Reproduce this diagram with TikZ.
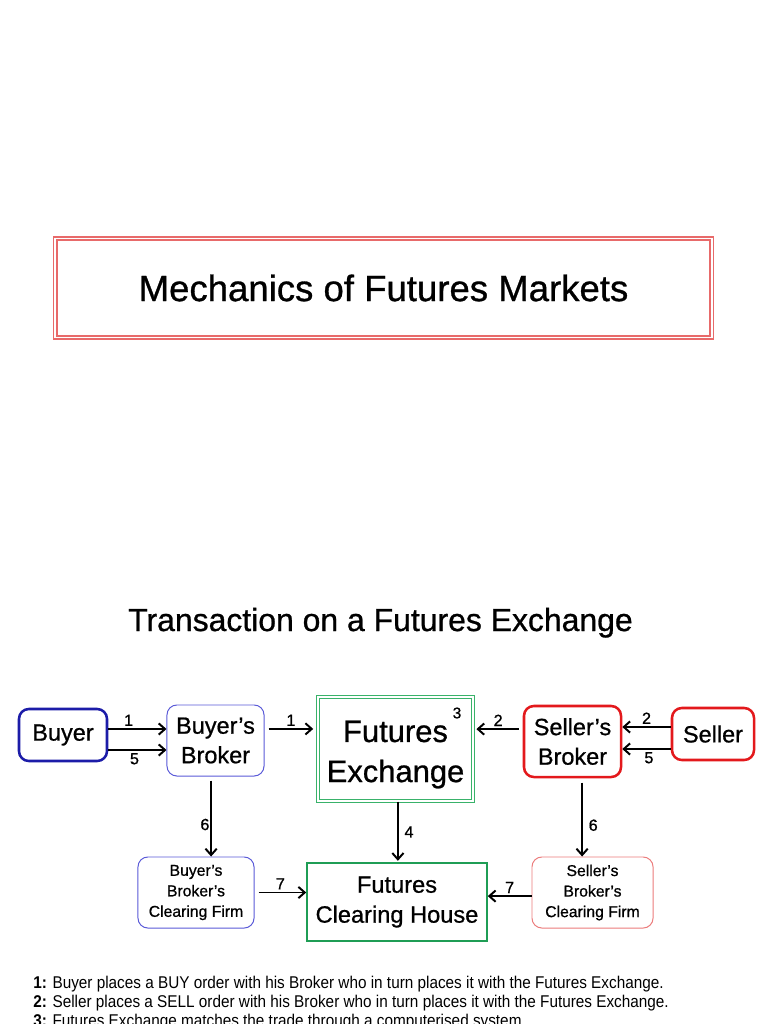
\documentclass[tikz,border=0pt]{standalone}
\usepackage{fontspec}
\setmainfont{Liberation Sans}[FakeBold=0.8]
\newfontfamily\notefont{Liberation Sans}[FakeStretch=0.9]
\usetikzlibrary{arrows.meta}
\definecolor{titleRed}{HTML}{E86A6A}
\definecolor{buyerBlue}{HTML}{1C1CA8}
\definecolor{brokerBlue}{HTML}{5A5AD8}
\definecolor{sellerRed}{HTML}{E3191C}
\definecolor{firmRed}{HTML}{EC7C7C}
\definecolor{exchGreen}{HTML}{39B26A}
\definecolor{houseGreen}{HTML}{1F9D55}

\tikzset{
  partybox/.style={rounded corners=7pt,align=center,inner sep=0pt},
  flow/.style={draw=black,line width=1.4pt,-{Straight Barb[length=4.5pt,width=8pt]}},
  numlbl/.style={font=\fontsize{11.5}{12}\selectfont,inner sep=1.5pt},
  midtext/.style={font=\fontsize{16.7}{21}\selectfont},
  smalltext/.style={font=\fontsize{11.2}{14.6}\selectfont},
}

\begin{document}
\begin{tikzpicture}[x=0.025cm,y=-0.025cm]
  \clip (0,0) rectangle (768,1024);
  \fill[white] (0,0) rectangle (768,1024);

  \node[draw=titleRed,double,double distance=1.4pt,line width=0.9pt,
    minimum width=16.4cm,minimum height=2.475cm,font=\fontsize{26}{30}\selectfont]
    (title) at (383.5,288) {Mechanics of Futures Markets};

  \draw[titleRed,double,double distance=0.8pt,line width=0.6pt] (0,636) -- (768,636);
  \node[anchor=base,font=\fontsize{22.7}{26}\selectfont] (heading) at (380.5,631)
    {Transaction on a Futures Exchange};

  \node[partybox,draw=buyerBlue,line width=1.8pt,midtext,
    minimum width=2.2cm,minimum height=1.3cm] (buyer) at (63,735) {Buyer};
  \node[partybox,draw=brokerBlue,line width=0.7pt,midtext,
    minimum width=2.425cm,minimum height=1.775cm] (bbroker) at (215.5,740.5) {Buyer’s\\Broker};
  \node[draw=exchGreen,double,double distance=1.2pt,line width=0.8pt,align=center,
    font=\fontsize{22}{28.5}\selectfont,minimum width=3.875cm,minimum height=2.6cm,
    text height=51.6pt,text depth=4.6pt] (exchange) at (395.5,749) {Futures\\Exchange};
  \node[font=\fontsize{11}{12}\selectfont,inner sep=0pt] (exthree) at (457,713) {3};
  \node[partybox,draw=sellerRed,line width=1.8pt,midtext,
    minimum width=2.425cm,minimum height=1.775cm] (sbroker) at (572.5,741.5) {Seller’s\\Broker};
  \node[partybox,draw=sellerRed,line width=1.8pt,midtext,
    minimum width=2.05cm,minimum height=1.3cm] (seller) at (713,734) {Seller};

  \node[partybox,draw=brokerBlue,line width=0.7pt,smalltext,
    minimum width=2.9cm,minimum height=1.775cm] (bbfirm) at (196,892.5)
    {Buyer’s\\Broker’s\\Clearing Firm};
  \node[draw=houseGreen,line width=1.1pt,align=center,font=\fontsize{16.8}{21.3}\selectfont,
    minimum width=4.5cm,minimum height=1.95cm] (house) at (397,902) {Futures\\Clearing House};
  \node[partybox,draw=firmRed,line width=0.7pt,smalltext,
    minimum width=3.025cm,minimum height=1.775cm] (sbfirm) at (592.5,892.5)
    {Seller’s\\Broker’s\\Clearing Firm};

  \draw[flow] ([yshift=0.15cm]buyer.east) -- ([yshift=0.15cm]buyer.east -| bbroker.west)
    node[numlbl,above,pos=0.35] (buyone) {1};
  \draw[flow] ([yshift=-0.375cm]buyer.east) -- ([yshift=-0.375cm]buyer.east -| bbroker.west)
    node[numlbl,below,pos=0.45] (buyfive) {5};
  \draw[flow,shorten <=3pt,shorten >=3pt] ([yshift=0.29cm]bbroker.east) -- ([yshift=0.29cm]bbroker.east -| exchange.west)
    node[numlbl,above,midway] (brokone) {1};
  \draw[flow,shorten <=3pt,shorten >=2pt] ([yshift=0.31cm]sbroker.west) -- ([yshift=0.31cm]sbroker.west -| exchange.east)
    node[numlbl,above,midway] (broktwo) {2};
  \draw[flow] ([yshift=0.175cm]seller.west) -- ([yshift=0.175cm]seller.west -| sbroker.east)
    node[numlbl,above,midway] (selltwo) {2};
  \draw[flow] ([yshift=-0.375cm]seller.west) -- ([yshift=-0.375cm]seller.west -| sbroker.east)
    node[numlbl,below,pos=0.45] (sellfive) {5};

  \draw[flow,shorten <=3pt] ([xshift=-0.11cm]bbroker.south) -- ([xshift=-0.11cm]bbroker.south |- bbfirm.north)
    node[numlbl,left,pos=0.6,inner sep=0.5pt] (bbsix) {6};
  \draw[flow,shorten >=1pt] ([xshift=0.06cm]exchange.south) -- ([xshift=0.06cm]exchange.south |- house.north)
    node[numlbl,right,midway,inner sep=4pt] (exfour) {4};
  \draw[flow,shorten <=3pt] ([xshift=0.24cm]sbroker.south) -- ([xshift=0.24cm]sbroker.south |- sbfirm.north)
    node[numlbl,right,pos=0.6,inner sep=4pt] (sbsix) {6};
  \draw[flow,shorten <=3pt] (bbfirm.east) -- (bbfirm.east -| house.west)
    node[numlbl,above,midway] (bbseven) {7};
  \draw[flow] ([yshift=-0.09cm]sbfirm.west) -- ([yshift=-0.09cm]sbfirm.west -| house.east)
    node[numlbl,above,midway] (sbseven) {7};

  \node[anchor=base west,font=\notefont\fontsize{12.1}{14}\selectfont,inner sep=0pt] (noteone) at (33,988)
    {\textbf{1:} Buyer places a BUY order with his Broker who in turn places it with the Futures Exchange.};
  \node[anchor=base west,font=\notefont\fontsize{12.1}{14}\selectfont,inner sep=0pt] (notetwo) at (33,1007)
    {\textbf{2:} Seller places a SELL order with his Broker who in turn places it with the Futures Exchange.};
  \node[anchor=base west,font=\notefont\fontsize{12.1}{14}\selectfont,inner sep=0pt] (notethree) at (33,1026)
    {\textbf{3:} Futures Exchange matches the trade through a computerised system.};
\end{tikzpicture}
\end{document}
